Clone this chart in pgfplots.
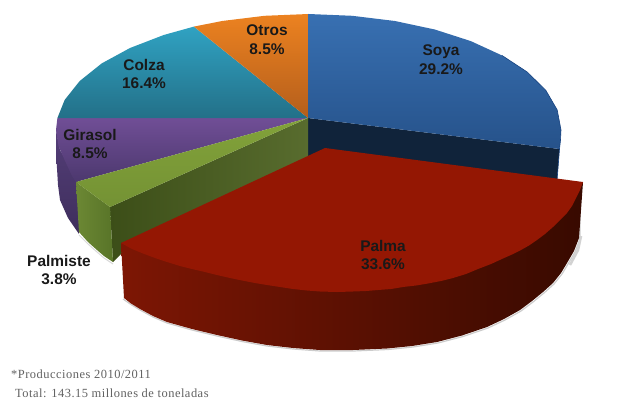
\documentclass[border=0pt]{standalone}
\usepackage{pgfplots}
\pgfplotsset{compat=1.18}
\usepackage{fontspec}
\setmainfont{Liberation Sans}
\newfontfamily\noteserif[LetterSpace=4]{Liberation Serif}
\definecolor{navy}{HTML}{10233A}
\definecolor{redtop}{HTML}{941703}
\tikzset{
  lab/.style={align=center, inner sep=0pt, text=black!90, font=\fontsize{15.5}{19}\selectfont\bfseries},
  note/.style={anchor=base west, inner sep=0pt, text=black!62, font=\noteserif\fontsize{12.5}{14}\selectfont},
}
\begin{document}
\begin{tikzpicture}
\begin{axis}[
  width=640bp, height=408bp, scale only axis,
  xmin=0, xmax=640, ymin=0, ymax=408,
  y dir=reverse,
  hide axis,
  clip=false,
]
% keeps the page as large as the axis
\addplot[draw=none] coordinates {(0,0)(640,408)};
% Soya cut face
\addplot[fill=navy, draw=none] coordinates {(308,118)(559.5,149)(557,181)(308,170)} -- cycle;
% Girasol side
\addplot[top color={rgb,255:red,84;green,62;blue,120}, bottom color={rgb,255:red,62;green,46;blue,92}, draw=none] coordinates {
  (56,130)(56.5,160)(58,185)(60,200)(68,218)(79,234)(78,180)(60,150)} -- cycle;
% Girasol top
\addplot[top color={rgb,255:red,112;green,78;blue,150}, bottom color={rgb,255:red,76;green,56;blue,110}, draw=none] coordinates {
  (308,118)(57.4,118)(56,130)(58.5,146)(64.6,160)(72,176)(76,182)} -- cycle;
% Colza top
\addplot[top color={rgb,255:red,48;green,162;blue,194}, bottom color={rgb,255:red,35;green,112;blue,136}, draw=none] coordinates {
  (308,118)(57.4,118)(64.6,100)(79.7,81)(101.7,63.4)(130,48)(163.7,35)(193.9,26.6)} -- cycle;
% Otros top
\addplot[top color={rgb,255:red,236;green,130;blue,32}, bottom color={rgb,255:red,180;green,94;blue,28}, draw=none] coordinates {
  (308,118)(193.9,26.6)(222.1,21)(264.6,15.8)(308.5,14)} -- cycle;
% Soya top
\addplot[top color={rgb,255:red,56;green,112;blue,178}, bottom color={rgb,255:red,38;green,82;blue,138}, draw=none] coordinates {
  (308,118)(308.5,14)(352.3,15.8)(394.9,21)(434.8,29.5)(470.8,41.1)(501.9,55.4)(527.2,72)(545.8,90.3)(557.2,109.9)(561,130)(560.5,140)(559.5,149)} -- cycle;
% Soya rim
\addplot[color={rgb,255:red,22;green,66;blue,128}, line width=0.6pt] coordinates {
  (501.9,55.4)(527.2,72)(545.8,90.3)(557.2,109.9)(561,130)(560.5,140)(559.5,149)(557,181)};
% Palmiste cut face
\addplot[left color={rgb,255:red,60;green,78;blue,24}, right color={rgb,255:red,88;green,108;blue,46}, draw=none] coordinates {
  (308,118)(110,207)(113,262)(125,250)(308,170)} -- cycle;
% Palmiste shadow
\addplot[gray!30, line width=1pt] coordinates {(79,235)(88,244)(97,252)(104,258)(113,264)};
% Palmiste outer face
\addplot[left color={rgb,255:red,108;green,136;blue,52}, right color={rgb,255:red,88;green,116;blue,40}, draw=none] coordinates {
  (76,182)(110,207)(113,262)(104,256)(97,250)(88,242)(79,232)} -- cycle;
% Palmiste top
\addplot[top color={rgb,255:red,130;green,162;blue,58}, bottom color={rgb,255:red,116;green,146;blue,52}, draw=none] coordinates {
  (308,118)(76,182)(110,207)} -- cycle;
% Palma shadow
\addplot[gray!40, line width=1.2pt] coordinates {
  (580,210)(580,239)(575,252)(568,264)(562,274)(554,284)(544,293)(533,302)(521,311)(505,320)(488,328)(463,336.5)(438,343)(413,347)(388,349.5)(353,351)(320,351)(293,349)(267,346)(242,341.5)(217,336)(192,330)(167,323)(153,317)(140,310)(131,304.5)(123,299)};
\addplot[gray!35, line width=2.6pt] coordinates {(581,236)(578,250)(570,265)};
% Palma side
\addplot[left color={rgb,255:red,125;green,22;blue,4}, middle color={rgb,255:red,60;green,11;blue,0}, right color={rgb,255:red,56;green,10;blue,0}, draw=none] coordinates {
  (583,182)(579,238)(574,251)(567,263)(561,273)(553,283)(543,292)(532,301)(520,310)(504,319)(487,327)(462,335.5)(437,342)(412,346)(387,348.5)(353,350)(320,350)(293,348)(267,345)(242,340.5)(217,335)(192,329)(167,322)(153,316)(140,309)(131,303.5)(124,298)(121,243)(350,200)} -- cycle;
% Palma top
\addplot[fill=redtop, draw=none] coordinates {
  (325,148)(583,182)(580,190)(576,198)(572,206)(567,213)(560,220)(553,227)(545,234)(537,240)(529,245.5)(521,250)(512,254.5)(503,258.5)(491,264)(478,269)(466,274)(453,278)(441,281)(428,283.5)(416,285.5)(403,287)(391,289)(378,290)(366,291)(353,291.5)(337,292)(320,291.5)(307,290.5)(293,289)(280,287)(267,285)(255,283)(242,280.5)(230,278)(217,275)(205,272)(192,269)(180,266)(167,262)(155,258)(143,253.5)(132,249)(121,243)} -- cycle;

\node[lab] at (axis cs:441,60) {Soya\\29.2\%};
\node[lab] at (axis cs:383,255) {Palma\\33.6\%};
\node[lab] at (axis cs:59,270) {Palmiste\\3.8\%};
\node[lab] at (axis cs:90,144) {Girasol\\8.5\%};
\node[lab] at (axis cs:144,74) {Colza\\16.4\%};
\node[lab] at (axis cs:267,40) {Otros\\8.5\%};
\node[note] at (axis cs:11,378) {*Producciones 2010/2011};
\node[note] at (axis cs:15,397) {Total: 143.15 millones de toneladas};
\end{axis}
\end{tikzpicture}
\end{document}
